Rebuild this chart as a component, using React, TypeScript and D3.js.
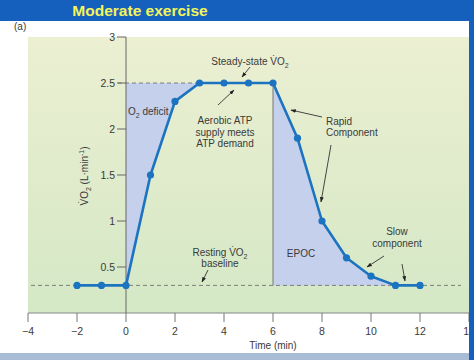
import React from "react";
import * as d3 from "d3";

const times = [-2, -1, 0, 1, 2, 3, 4, 5, 6, 7, 8, 9, 10, 11, 12];
const vo2 = [0.3, 0.3, 0.3, 1.5, 2.3, 2.5, 2.5, 2.5, 2.5, 1.9, 1.0, 0.6, 0.4, 0.3, 0.3];
const xTicks = [-4, -2, 0, 2, 4, 6, 8, 10, 12, 14];
const yTicks = [0.5, 1, 1.5, 2, 2.5, 3];
const baseline = 0.3;
const steady = 2.5;

const W = 474, H = 360;
const PL = 28, PR = 469, PT = 37, PB = 313;

export default function App() {
  const x = d3.scaleLinear().domain([-4, 14]).range([28, 469]);
  const y = d3.scaleLinear().domain([0, 3]).range([313, 37]);
  const pts = times.map((t, i) => ({ t, v: vo2[i] }));
  const line = d3.line<{ t: number; v: number }>().x(d => x(d.t)).y(d => y(d.v));

  const deficitPts = pts.filter(p => p.t >= 0 && p.t <= 3);
  const deficitArea = d3.area<{ t: number; v: number }>()
    .x(d => x(d.t)).y0(y(steady)).y1(d => y(d.v));
  const epocPts = pts.filter(p => p.t >= 6 && p.t <= 11);
  const epocArea = d3.area<{ t: number; v: number }>()
    .x(d => x(d.t)).y0(y(baseline)).y1(d => y(d.v));

  const font = "Liberation Sans, Arial, sans-serif";
  const txt = "#3a3a3a";
  const fs = 10;

  const arrow = (x1: number, y1: number, x2: number, y2: number, key: string) => (
    <line key={key} x1={x1} y1={y1} x2={x2} y2={y2} stroke="#333" strokeWidth={0.9} markerEnd="url(#ah)" />
  );

  return (
    <svg width={W} height={H} style={{ position: "absolute", left: 0, top: 0, fontFamily: font }}>
      <defs>
        <linearGradient id="bg" x1="0" y1="0" x2="0" y2="1">
          <stop offset="0" stopColor="#ecefd2" />
          <stop offset="1" stopColor="#d4e8c6" />
        </linearGradient>
        <marker id="ah" viewBox="0 0 10 10" refX="9" refY="5" markerWidth="6" markerHeight="6" orient="auto">
          <path d="M0,1.5 L10,5 L0,8.5 z" fill="#222" />
        </marker>
      </defs>
      <rect x={0} y={0} width={W} height={H} fill="#ffffff" />
      <rect x={PL} y={PT} width={PR - PL} height={PB - PT} fill="url(#bg)" />

      <path d={deficitArea(deficitPts) || ""} fill="#c5d0ec" />
      <path d={epocArea(epocPts) || ""} fill="#c5d0ec" />

      <line x1={x(-4) + 3} x2={x(14) - 8} y1={y(baseline)} y2={y(baseline)} stroke="#666" strokeDasharray="4,3" strokeWidth={0.8} />
      <line x1={x(0) - 8} x2={x(6)} y1={y(steady)} y2={y(steady)} stroke="#666" strokeDasharray="4,3" strokeWidth={0.8} />
      <line x1={x(6)} x2={x(6)} y1={y(steady)} y2={y(baseline)} stroke="#777" strokeWidth={1} />

      <line x1={PL} x2={PR} y1={PB} y2={PB} stroke="#888" strokeWidth={1} />
      <line x1={x(0)} x2={x(0)} y1={y(3)} y2={PB} stroke="#666" strokeWidth={1} />
      {yTicks.map(v => (
        <g key={"y" + v}>
          <line x1={x(0) - 9} x2={x(0)} y1={y(v)} y2={y(v)} stroke="#666" />
          <text x={x(0) - 11} y={y(v)} dy="0.35em" textAnchor="end" fontSize={10.5} fill={txt}>{v}</text>
        </g>
      ))}
      {xTicks.map(t => (
        <g key={"x" + t}>
          <line x1={x(t)} x2={x(t)} y1={PB} y2={PB + 9} stroke="#777" />
          <text x={x(t)} y={PB + 22} textAnchor="middle" fontSize={10.5} fill={txt}>{t < 0 ? "\u2212" + Math.abs(t) : t}</text>
        </g>
      ))}
      <text x={273} y={349} textAnchor="middle" fontSize={fs} fill={txt}>Time (min)</text>
      <text transform={`translate(88,176) rotate(-90)`} textAnchor="middle" fontSize={fs} fill={txt}>
        V̇O<tspan fontSize={7} dy={3}>2</tspan><tspan dy={-3}> (L·min</tspan><tspan fontSize={7} dy={-4}>-1</tspan><tspan dy={4}>)</tspan>
      </text>

      <path d={line(pts) || ""} fill="none" stroke="#1c73c0" strokeWidth={2.6} strokeLinejoin="round" />
      {pts.map(p => (
        <circle key={"c" + p.t} cx={x(p.t)} cy={y(p.v)} r={3.6} fill="#1c73c0" />
      ))}

      <text x={128} y={115} fontSize={fs} fill={txt}>O<tspan fontSize={7} dy={3}>2</tspan><tspan dy={-3}> deficit</tspan></text>
      <text x={250} y={65} textAnchor="middle" fontSize={fs} fill={txt}>Steady-state V̇O<tspan fontSize={7} dy={3}>2</tspan></text>
      {arrow(250, 67, 242, 77, "a1")}
      <text x={225} y={124} textAnchor="middle" fontSize={fs} fill={txt}>
        <tspan x={225}>Aerobic ATP</tspan>
        <tspan x={225} dy={11.5}>supply meets</tspan>
        <tspan x={225} dy={11.5}>ATP demand</tspan>
      </text>
      {arrow(218, 105, 234, 90, "a2")}
      <text x={326} y={125} fontSize={fs} fill={txt}>
        <tspan x={326}>Rapid</tspan>
        <tspan x={326} dy={11}>Component</tspan>
      </text>
      {arrow(322, 117, 291, 110, "a3")}
      {arrow(331, 145, 321, 202, "a4")}
      <text x={301} y={257} textAnchor="middle" fontSize={fs} fill={txt}>EPOC</text>
      <text x={220} y={256} textAnchor="middle" fontSize={fs} fill={txt}>
        <tspan x={220}>Resting V̇O</tspan><tspan fontSize={7} dy={3}>2</tspan>
        <tspan x={220} dy={8}>baseline</tspan>
      </text>
      {arrow(208, 270, 202, 282, "a5")}
      <text x={397} y={235} textAnchor="middle" fontSize={fs} fill={txt}>
        <tspan x={397}>Slow</tspan>
        <tspan x={397} dy={11.5}>component</tspan>
      </text>
      {arrow(384, 256, 367, 267, "a6")}
      {arrow(402, 264, 405, 281, "a7")}

      <text x={14} y={30} fontSize={fs} fill={txt}>(a)</text>

      <rect x={0} y={0} width={W} height={21} fill="#1560bd" />
      <rect x={469} y={0} width={5} height={H} fill="#1560bd" />
      <rect x={0} y={353} width={469} height={7} fill="#a9bcd6" />
      <text x={140} y={16} textAnchor="middle" fontSize={15.5} fontWeight="bold" fill="#f3f55a">Moderate exercise</text>
    </svg>
  );
}
